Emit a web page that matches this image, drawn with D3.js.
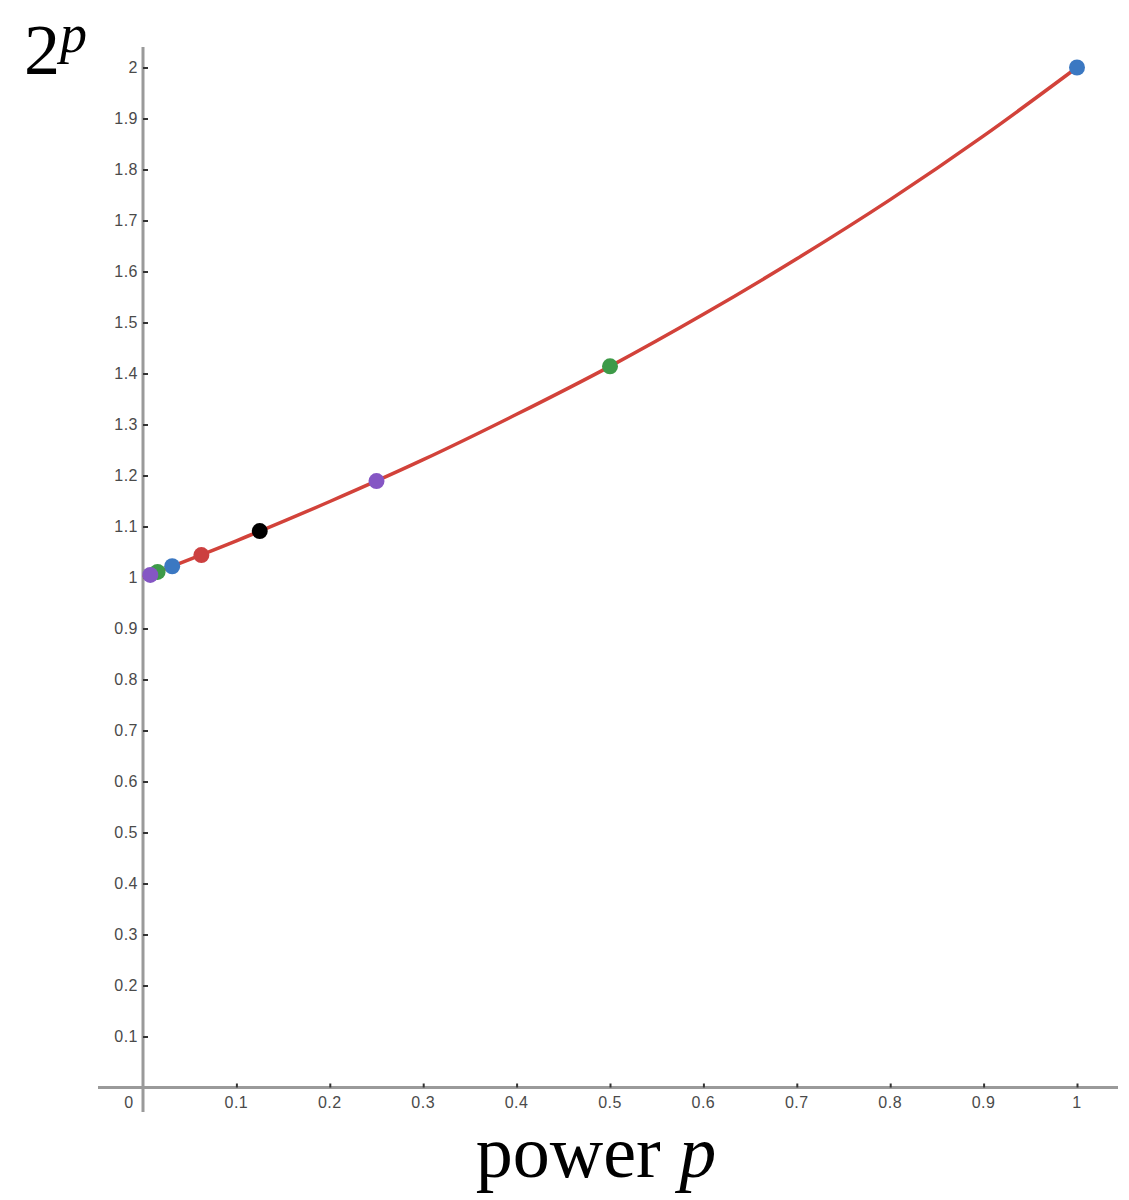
<!DOCTYPE html>
<html>
<head>
<meta charset="utf-8">
<script src="https://cdn.jsdelivr.net/npm/d3@7"></script>
<style>
  body { margin: 0; background: #fff; }
  .tick-label { font-family: "Liberation Sans", Arial, sans-serif; font-size: 16px; fill: #4a4a4a; letter-spacing: 0.5px; }
</style>
</head>
<body>
<div id="chart"></div>
<script>
// marked powers p = 1, 1/2, 1/4 ... 1/128 and their values 2^p
const powers = [1, 0.5, 0.25, 0.125, 0.0625, 0.03125, 0.015625, 0.0078125];
const powerValues = [2, 1.414, 1.189, 1.091, 1.044, 1.022, 1.011, 1.005];
const pointColors = ["#3b78c2", "#3d9a48", "#8556c4", "#000000", "#cc4040", "#3b78c2", "#3d9a48", "#8556c4"];

// red curve at steps of 0.1
const curveP = [0, 0.1, 0.2, 0.3, 0.4, 0.5, 0.6, 0.7, 0.8, 0.9, 1];
const curveY = [1, 1.072, 1.149, 1.231, 1.320, 1.414, 1.516, 1.625, 1.741, 1.866, 2];

const xTicks = [0, 0.1, 0.2, 0.3, 0.4, 0.5, 0.6, 0.7, 0.8, 0.9, 1];
const yTicks = [0.1, 0.2, 0.3, 0.4, 0.5, 0.6, 0.7, 0.8, 0.9, 1, 1.1, 1.2, 1.3, 1.4, 1.5, 1.6, 1.7, 1.8, 1.9, 2];

const width = 1129, height = 1200;

const svg = d3.select("#chart")
    .append("svg")
    .attr("width", width)
    .attr("height", height);

const x = d3.scaleLinear().domain([0, 1]).range([143, 1077]);
const y = d3.scaleLinear().domain([0, 2]).range([1087.5, 67.5]);

// axes lines
svg.append("line")
    .attr("x1", x(0)).attr("x2", x(0))
    .attr("y1", 47).attr("y2", 1112)
    .attr("stroke", "#9a9a9a").attr("stroke-width", 3);

svg.append("line")
    .attr("x1", 98).attr("x2", 1118)
    .attr("y1", y(0)).attr("y2", y(0))
    .attr("stroke", "#9a9a9a").attr("stroke-width", 3);

// y ticks
const yAxis = d3.axisRight(y)
    .tickValues(yTicks)
    .tickSize(5)
    .tickFormat("");
svg.append("g")
    .attr("transform", `translate(${x(0)},0)`)
    .call(yAxis)
    .call(g => g.select(".domain").remove())
    .call(g => g.selectAll("line").attr("stroke", "#333").attr("stroke-width", 2));

svg.append("g").selectAll("text")
    .data(yTicks)
    .join("text")
    .attr("class", "tick-label")
    .attr("x", x(0) - 5)
    .attr("y", d => y(d))
    .attr("dy", "0.35em")
    .attr("text-anchor", "end")
    .text(d => d3.format("~g")(d));

// x ticks
const xAxis = d3.axisTop(x)
    .tickValues(xTicks.slice(1))
    .tickSize(4)
    .tickFormat("");
svg.append("g")
    .attr("transform", `translate(0,${y(0)})`)
    .call(xAxis)
    .call(g => g.select(".domain").remove())
    .call(g => g.selectAll("line").attr("stroke", "#333").attr("stroke-width", 2));

svg.append("g").selectAll("text")
    .data(xTicks)
    .join("text")
    .attr("class", "tick-label")
    .attr("x", d => d === 0 ? x(0) - 14 : x(d))
    .attr("y", y(0) + 15)
    .attr("dy", "0.35em")
    .attr("text-anchor", "middle")
    .text(d => d3.format("~g")(d));

// curve
const line = d3.line()
    .x((d, i) => x(curveP[i]))
    .y(d => y(d))
    .curve(d3.curveMonotoneX);

svg.append("path")
    .datum(curveY)
    .attr("d", line)
    .attr("fill", "none")
    .attr("stroke", "#d2423a")
    .attr("stroke-width", 3.5);

// points
svg.append("g").selectAll("circle")
    .data(powers)
    .join("circle")
    .attr("cx", d => x(d))
    .attr("cy", (d, i) => y(powerValues[i]))
    .attr("r", 8)
    .attr("fill", (d, i) => pointColors[i]);

// title 2^p
const title = svg.append("text")
    .attr("x", 24)
    .attr("y", 74)
    .attr("font-family", "'Liberation Serif', 'Times New Roman', serif")
    .attr("fill", "#000");
title.append("tspan").attr("font-size", "72px").text("2");
title.append("tspan")
    .attr("font-size", "54px")
    .attr("font-style", "italic")
    .attr("dy", "-22")
    .text("p");

// x axis label
const xlab = svg.append("text")
    .attr("x", 596)
    .attr("y", 1177)
    .attr("text-anchor", "middle")
    .attr("font-family", "'Liberation Serif', 'Times New Roman', serif")
    .attr("font-size", "74px")
    .attr("fill", "#000");
xlab.append("tspan").text("power ");
xlab.append("tspan").attr("font-style", "italic").text("p");
</script>
</body>
</html>
